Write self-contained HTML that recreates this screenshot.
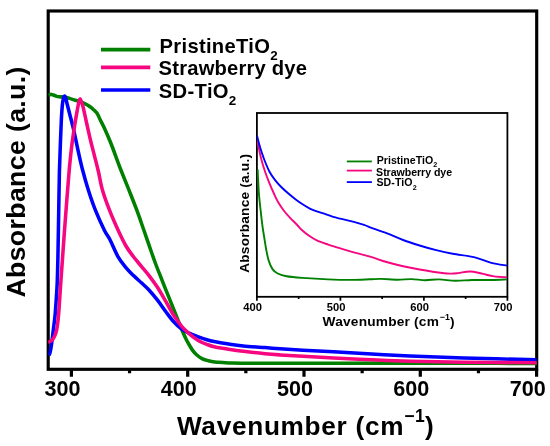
<!DOCTYPE html>
<html lang="en"><head><meta charset="utf-8"><title>Absorbance spectra</title>
<style>html,body{margin:0;padding:0;background:#fff;}body{width:550px;height:446px;overflow:hidden;font-family:"Liberation Sans",Arial,sans-serif;}</style></head>
<body>
<svg width="550" height="446" viewBox="0 0 550 446" style="display:block">
<rect x="0" y="0" width="550" height="446" fill="#ffffff"/>
<defs><clipPath id="mc"><rect x="48.2" y="11" width="488.5" height="358.3"/></clipPath><clipPath id="ic"><rect x="256.9" y="113" width="250.5" height="183.8"/></clipPath></defs>
<rect x="48.2" y="11" width="488.5" height="358.3" fill="none" stroke="#000" stroke-width="3.15"/>
<g clip-path="url(#mc)" fill="none" stroke-width="3.55" stroke-linejoin="round" stroke-linecap="butt">
<path d="M48.50,94.90 C49.00,94.82 50.67,94.38 51.50,94.40 C52.33,94.42 52.77,94.73 53.50,95.00 C54.23,95.27 54.95,95.70 55.90,96.00 C56.85,96.30 57.82,96.63 59.20,96.80 C60.58,96.97 62.47,96.73 64.20,97.00 C65.93,97.27 67.77,97.85 69.60,98.40 C71.43,98.95 73.42,99.77 75.20,100.30 C76.98,100.83 78.97,101.18 80.30,101.60 C81.63,102.02 82.25,102.37 83.20,102.80 C84.15,103.23 85.10,103.70 86.00,104.20 C86.90,104.70 87.77,105.27 88.60,105.80 C89.43,106.33 90.27,106.83 91.00,107.40 C91.73,107.97 92.30,108.57 93.00,109.20 C93.70,109.83 94.48,110.47 95.20,111.20 C95.92,111.93 96.47,112.17 97.30,113.60 C98.13,115.03 98.92,117.17 100.20,119.80 C101.48,122.43 103.20,125.45 105.00,129.40 C106.80,133.35 109.00,138.45 111.00,143.50 C113.00,148.55 115.32,155.20 117.00,159.70 C118.68,164.20 119.10,165.42 121.10,170.50 C123.10,175.58 126.37,183.55 129.00,190.20 C131.63,196.85 134.43,203.77 136.90,210.40 C139.37,217.03 141.75,224.12 143.80,230.00 C145.85,235.88 147.25,240.12 149.20,245.70 C151.15,251.28 153.40,257.85 155.50,263.50 C157.60,269.15 159.35,273.40 161.80,279.60 C164.25,285.80 167.75,294.57 170.20,300.70 C172.65,306.83 174.43,311.27 176.50,316.40 C178.57,321.53 180.93,327.57 182.60,331.50 C184.27,335.43 185.30,337.62 186.50,340.00 C187.70,342.38 188.75,344.03 189.80,345.80 C190.85,347.57 191.63,349.07 192.80,350.60 C193.97,352.13 195.18,353.62 196.80,355.00 C198.42,356.38 200.58,357.95 202.50,358.90 C204.42,359.85 205.88,360.15 208.30,360.70 C210.72,361.25 213.62,361.83 217.00,362.20 C220.38,362.57 220.60,362.73 228.60,362.90 C236.60,363.07 234.77,363.17 265.00,363.20 C295.23,363.23 375.83,363.10 410.00,363.10 C444.17,363.10 448.67,363.13 470.00,363.20 C491.33,363.27 526.67,363.45 538.00,363.50" stroke="#008000"/>
<path d="M49.00,355.50 C49.18,354.97 49.72,353.88 50.10,352.30 C50.48,350.72 50.92,348.47 51.30,346.00 C51.68,343.53 52.02,340.58 52.40,337.50 C52.78,334.42 53.17,331.08 53.60,327.50 C54.03,323.92 54.57,320.58 55.00,316.00 C55.43,311.42 55.83,305.50 56.20,300.00 C56.57,294.50 56.92,290.00 57.20,283.00 C57.48,276.00 57.70,266.83 57.90,258.00 C58.10,249.17 58.23,239.67 58.40,230.00 C58.57,220.33 58.73,209.67 58.90,200.00 C59.07,190.33 59.17,181.00 59.40,172.00 C59.63,163.00 59.98,154.50 60.30,146.00 C60.62,137.50 60.97,127.75 61.30,121.00 C61.63,114.25 61.95,109.28 62.30,105.50 C62.65,101.72 63.02,99.87 63.40,98.30 C63.78,96.73 64.20,96.10 64.60,96.10 C65.00,96.10 65.37,96.95 65.80,98.30 C66.23,99.65 66.53,101.50 67.20,104.20 C67.87,106.90 68.75,110.33 69.80,114.50 C70.85,118.67 72.08,123.02 73.50,129.20 C74.92,135.38 76.78,144.80 78.30,151.60 C79.82,158.40 80.92,163.57 82.60,170.00 C84.28,176.43 86.25,183.47 88.40,190.20 C90.55,196.93 92.82,203.68 95.50,210.40 C98.18,217.12 102.08,225.60 104.50,230.50 C106.92,235.40 107.78,235.50 110.00,239.80 C112.22,244.10 115.18,251.70 117.80,256.30 C120.42,260.90 123.08,264.18 125.70,267.40 C128.32,270.62 130.88,273.03 133.50,275.60 C136.12,278.17 138.78,280.37 141.40,282.80 C144.02,285.23 146.52,287.30 149.20,290.20 C151.88,293.10 154.75,296.65 157.50,300.20 C160.25,303.75 163.03,307.95 165.70,311.50 C168.37,315.05 170.88,318.62 173.50,321.50 C176.12,324.38 178.78,326.85 181.40,328.80 C184.02,330.75 186.58,331.93 189.20,333.20 C191.82,334.47 194.17,335.30 197.10,336.40 C200.03,337.50 203.97,338.93 206.80,339.80 C209.63,340.67 210.47,340.90 214.10,341.60 C217.73,342.30 223.75,343.28 228.60,344.00 C233.45,344.72 237.13,345.30 243.20,345.90 C249.27,346.50 258.87,347.13 265.00,347.60 C271.13,348.07 273.67,348.27 280.00,348.70 C286.33,349.13 294.07,349.68 303.00,350.20 C311.93,350.72 322.13,351.15 333.60,351.80 C345.07,352.45 359.07,353.40 371.80,354.10 C384.53,354.80 394.70,355.35 410.00,356.00 C425.30,356.65 442.27,357.37 463.60,358.00 C484.93,358.63 525.60,359.50 538.00,359.80" stroke="#0000ff"/>
<path d="M47.80,342.00 C48.25,341.87 49.63,341.70 50.50,341.20 C51.37,340.70 52.12,340.33 53.00,339.00 C53.88,337.67 55.07,335.45 55.80,333.20 C56.53,330.95 56.90,329.03 57.40,325.50 C57.90,321.97 58.27,318.70 58.80,312.00 C59.33,305.30 59.97,294.47 60.60,285.30 C61.23,276.13 62.00,265.45 62.60,257.00 C63.20,248.55 63.50,244.05 64.20,234.60 C64.90,225.15 65.98,210.82 66.80,200.30 C67.62,189.78 68.32,180.22 69.10,171.50 C69.88,162.78 70.60,155.50 71.50,148.00 C72.40,140.50 73.53,132.83 74.50,126.50 C75.47,120.17 76.55,114.18 77.30,110.00 C78.05,105.82 78.55,103.25 79.00,101.40 C79.45,99.55 79.63,98.97 80.00,98.90 C80.37,98.83 80.65,99.52 81.20,101.00 C81.75,102.48 82.40,104.13 83.30,107.80 C84.20,111.47 85.43,117.75 86.60,123.00 C87.77,128.25 89.00,133.87 90.30,139.30 C91.60,144.73 93.05,150.23 94.40,155.60 C95.75,160.97 97.05,165.73 98.40,171.50 C99.75,177.27 100.63,183.72 102.50,190.20 C104.37,196.68 107.05,203.85 109.60,210.40 C112.15,216.95 115.12,223.65 117.80,229.50 C120.48,235.35 123.08,240.95 125.70,245.50 C128.32,250.05 130.88,253.33 133.50,256.80 C136.12,260.27 138.78,263.13 141.40,266.30 C144.02,269.47 146.58,272.38 149.20,275.80 C151.82,279.22 154.38,282.62 157.10,286.80 C159.82,290.98 162.77,296.20 165.50,300.90 C168.23,305.60 170.85,310.82 173.50,315.00 C176.15,319.18 179.32,323.37 181.40,326.00 C183.48,328.63 184.18,329.07 186.00,330.80 C187.82,332.53 190.05,334.67 192.30,336.40 C194.55,338.13 197.08,339.87 199.50,341.20 C201.92,342.53 204.37,343.48 206.80,344.40 C209.23,345.32 210.47,345.90 214.10,346.70 C217.73,347.50 223.75,348.43 228.60,349.20 C233.45,349.97 237.13,350.55 243.20,351.30 C249.27,352.05 258.87,353.10 265.00,353.70 C271.13,354.30 273.67,354.47 280.00,354.90 C286.33,355.33 294.07,355.78 303.00,356.30 C311.93,356.82 322.13,357.42 333.60,358.00 C345.07,358.58 359.07,359.27 371.80,359.80 C384.53,360.33 394.70,360.80 410.00,361.20 C425.30,361.60 442.27,361.93 463.60,362.20 C484.93,362.47 525.60,362.70 538.00,362.80" stroke="#f6067f"/>
</g>
<path d="M71.40,369.3 V376.8 M187.70,369.3 V376.8 M304.00,369.3 V376.8 M420.30,369.3 V376.8 M536.60,369.3 V376.8 M129.55,369.3 V373.2 M245.85,369.3 V373.2 M362.15,369.3 V373.2 M478.45,369.3 V373.2" stroke="#000" stroke-width="3.2" fill="none"/>
<text x="62.45" y="396.4" font-size="21.6" text-anchor="middle" font-family="Liberation Sans, Arial, Helvetica, sans-serif" font-weight="bold">300</text>
<text x="178.75" y="396.4" font-size="21.6" text-anchor="middle" font-family="Liberation Sans, Arial, Helvetica, sans-serif" font-weight="bold">400</text>
<text x="295.05" y="396.4" font-size="21.6" text-anchor="middle" font-family="Liberation Sans, Arial, Helvetica, sans-serif" font-weight="bold">500</text>
<text x="411.35" y="396.4" font-size="21.6" text-anchor="middle" font-family="Liberation Sans, Arial, Helvetica, sans-serif" font-weight="bold">600</text>
<text x="527.65" y="396.4" font-size="21.6" text-anchor="middle" font-family="Liberation Sans, Arial, Helvetica, sans-serif" font-weight="bold">700</text>
<text font-size="26.2" font-family="Liberation Sans, Arial, Helvetica, sans-serif" font-weight="bold"><tspan x="176.9" y="434.5" textLength="226.6" lengthAdjust="spacing">Wavenumber (cm</tspan><tspan x="404.2" y="421.8" font-size="17.5" textLength="20.6" lengthAdjust="spacing">−1</tspan><tspan x="424.9" y="434.5">)</tspan></text>
<text transform="translate(25.3,297.6) rotate(-90)" font-size="26.6" textLength="231" lengthAdjust="spacing" font-family="Liberation Sans, Arial, Helvetica, sans-serif" font-weight="bold">Absorbance (a.u.)</text>
<g fill="none" stroke-width="3.7"><path d="M101,49.6 H150.3" stroke="#008000"/><path d="M101,67.4 H150.3" stroke="#f6067f"/><path d="M101,90 H150.3" stroke="#0000ff"/></g>
<text x="159.6" y="52.9" font-size="20.2" textLength="118" lengthAdjust="spacing" font-family="Liberation Sans, Arial, Helvetica, sans-serif" font-weight="bold">PristineTiO<tspan font-size="13.4" dy="6.7">2</tspan></text>
<text x="158.6" y="75.4" font-size="20.2" textLength="148.4" lengthAdjust="spacing" font-family="Liberation Sans, Arial, Helvetica, sans-serif" font-weight="bold">Strawberry dye</text>
<text x="158.8" y="98.0" font-size="20.2" textLength="77.5" lengthAdjust="spacing" font-family="Liberation Sans, Arial, Helvetica, sans-serif" font-weight="bold">SD-TiO<tspan font-size="13.4" dy="6.7">2</tspan></text>
<rect x="256.9" y="113" width="250.5" height="183.8" fill="#fff" stroke="none"/>
<rect x="256.9" y="113" width="250.5" height="183.8" fill="none" stroke="#000" stroke-width="1.8"/>
<g clip-path="url(#ic)" fill="none" stroke-width="1.9" stroke-linejoin="round">
<path d="M257.60,169.30 C257.77,172.62 258.27,183.92 258.60,189.20 C258.93,194.48 259.25,197.37 259.60,201.00 C259.95,204.63 260.27,207.15 260.70,211.00 C261.13,214.85 261.72,220.35 262.20,224.10 C262.68,227.85 262.95,229.35 263.60,233.50 C264.25,237.65 265.25,244.48 266.10,249.00 C266.95,253.52 267.63,257.25 268.70,260.60 C269.77,263.95 271.00,266.95 272.50,269.10 C274.00,271.25 275.33,272.30 277.70,273.50 C280.07,274.70 282.62,275.57 286.70,276.30 C290.78,277.03 295.32,277.38 302.20,277.90 C309.08,278.42 319.83,279.07 328.00,279.40 C336.17,279.73 344.20,279.92 351.20,279.90 C358.20,279.88 365.03,279.47 370.00,279.30 C374.97,279.13 376.40,278.83 381.00,278.90 C385.60,278.97 392.53,279.67 397.60,279.70 C402.67,279.73 406.82,279.02 411.40,279.10 C415.98,279.18 420.52,280.15 425.10,280.20 C429.68,280.25 433.83,279.30 438.90,279.40 C443.97,279.50 449.98,280.70 455.50,280.80 C461.02,280.90 466.03,280.13 472.00,280.00 C477.97,279.87 485.47,280.10 491.30,280.00 C497.13,279.90 504.38,279.50 507.00,279.40" stroke="#008000"/>
<path d="M257.00,139.50 C257.33,141.08 258.25,145.58 259.00,149.00 C259.75,152.42 260.48,156.22 261.50,160.00 C262.52,163.78 263.77,167.82 265.10,171.70 C266.43,175.58 268.03,179.67 269.50,183.30 C270.97,186.93 272.45,190.33 273.90,193.50 C275.35,196.67 276.50,199.38 278.20,202.30 C279.90,205.22 282.15,208.45 284.10,211.00 C286.05,213.55 287.72,215.27 289.90,217.60 C292.08,219.93 295.27,222.97 297.20,225.00 C299.13,227.03 299.52,228.00 301.50,229.80 C303.48,231.60 306.55,234.03 309.10,235.80 C311.65,237.57 313.62,238.93 316.80,240.40 C319.98,241.87 324.40,243.30 328.20,244.60 C332.00,245.90 335.63,247.00 339.60,248.20 C343.57,249.40 346.93,250.40 352.00,251.80 C357.07,253.20 364.25,254.90 370.00,256.60 C375.75,258.30 380.98,260.40 386.50,262.00 C392.02,263.60 397.58,264.95 403.10,266.20 C408.62,267.45 414.08,268.50 419.60,269.50 C425.12,270.50 431.13,271.52 436.20,272.20 C441.27,272.88 446.33,273.45 450.00,273.60 C453.67,273.75 455.45,273.42 458.20,273.10 C460.95,272.78 463.97,271.93 466.50,271.70 C469.03,271.47 470.65,271.33 473.40,271.70 C476.15,272.07 479.55,273.12 483.00,273.90 C486.45,274.68 490.10,275.85 494.10,276.40 C498.10,276.95 504.85,277.07 507.00,277.20" stroke="#f6067f"/>
<path d="M257.00,135.50 C257.33,136.83 258.30,140.95 259.00,143.50 C259.70,146.05 260.30,148.05 261.20,150.80 C262.10,153.55 263.02,156.52 264.40,160.00 C265.78,163.48 267.68,168.30 269.50,171.70 C271.32,175.10 273.35,177.85 275.30,180.40 C277.25,182.95 279.02,184.82 281.20,187.00 C283.38,189.18 285.98,191.43 288.40,193.50 C290.82,195.57 293.27,197.57 295.70,199.40 C298.13,201.23 300.57,202.93 303.00,204.50 C305.43,206.07 307.87,207.60 310.30,208.80 C312.73,210.00 315.17,210.85 317.60,211.70 C320.03,212.55 322.32,213.05 324.90,213.90 C327.48,214.75 329.15,215.68 333.10,216.80 C337.05,217.92 343.45,219.27 348.60,220.60 C353.75,221.93 360.43,223.68 364.00,224.80 C367.57,225.92 366.25,225.92 370.00,227.30 C373.75,228.68 380.98,230.98 386.50,233.10 C392.02,235.22 397.58,237.93 403.10,240.00 C408.62,242.07 414.08,243.80 419.60,245.50 C425.12,247.20 430.68,248.82 436.20,250.20 C441.72,251.58 446.27,252.62 452.70,253.80 C459.13,254.98 468.37,255.78 474.80,257.30 C481.23,258.82 485.93,261.52 491.30,262.90 C496.67,264.28 504.38,265.15 507.00,265.60" stroke="#0000ff"/>
</g>
<path d="M256.90,296.8 V300.7 M340.40,296.8 V300.7 M423.90,296.8 V300.7 M507.40,296.8 V300.7 M298.65,296.8 V298.9 M382.15,296.8 V298.9 M465.65,296.8 V298.9" stroke="#000" stroke-width="1.7" fill="none"/>
<text x="252.70" y="311.2" font-size="11.2" text-anchor="middle" font-family="Liberation Sans, Arial, Helvetica, sans-serif" font-weight="bold">400</text>
<text x="336.20" y="311.2" font-size="11.2" text-anchor="middle" font-family="Liberation Sans, Arial, Helvetica, sans-serif" font-weight="bold">500</text>
<text x="419.70" y="311.2" font-size="11.2" text-anchor="middle" font-family="Liberation Sans, Arial, Helvetica, sans-serif" font-weight="bold">600</text>
<text x="503.20" y="311.2" font-size="11.2" text-anchor="middle" font-family="Liberation Sans, Arial, Helvetica, sans-serif" font-weight="bold">700</text>
<text font-size="13.7" font-family="Liberation Sans, Arial, Helvetica, sans-serif" font-weight="bold"><tspan x="322.6" y="326.4" textLength="116.2" lengthAdjust="spacing">Wavenumber (cm</tspan><tspan x="439.8" y="319.7" font-size="8.8">−1</tspan><tspan x="450.1" y="326.4">)</tspan></text>
<text transform="translate(248.5,272.8) rotate(-90)" font-size="13.7" textLength="118.8" lengthAdjust="spacing" font-family="Liberation Sans, Arial, Helvetica, sans-serif" font-weight="bold">Absorbance (a.u.)</text>
<g fill="none" stroke-width="1.8"><path d="M346.8,161.45 H371.9" stroke="#008000"/><path d="M346.8,170.6 H371.9" stroke="#f6067f"/><path d="M346.8,182.1 H371.9" stroke="#0000ff"/></g>
<text x="376.7" y="163.7" font-size="10.6" textLength="60.5" lengthAdjust="spacing" font-family="Liberation Sans, Arial, Helvetica, sans-serif" font-weight="bold">PristineTiO<tspan font-size="7.2" dy="3.5">2</tspan></text>
<text x="376.1" y="175.5" font-size="10.6" textLength="76" lengthAdjust="spacing" font-family="Liberation Sans, Arial, Helvetica, sans-serif" font-weight="bold">Strawberry dye</text>
<text x="376.4" y="186.1" font-size="10.6" textLength="40.3" lengthAdjust="spacing" font-family="Liberation Sans, Arial, Helvetica, sans-serif" font-weight="bold">SD-TiO<tspan font-size="7.2" dy="3.5">2</tspan></text>
</svg>
</body></html>
